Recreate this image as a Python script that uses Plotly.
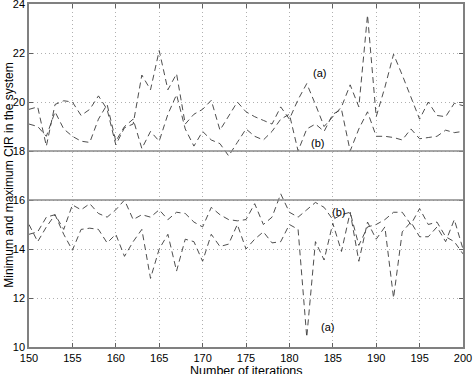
import plotly.graph_objects as go

iterations = list(range(150, 201))

# Maximum CIR, curve (a)
max_a = [19.7, 19.8, 18.2, 19.9, 20.05, 20.0, 19.45, 19.7, 20.25, 19.7,
         18.25, 18.95, 19.1, 21.1, 20.5, 22.1, 20.5, 21.15, 19.1, 19.5,
         19.7, 20.07, 18.85, 19.4, 20.0, 19.6, 19.4, 19.25, 19.1, 19.8,
         19.3, 20.1, 20.75, 19.9, 19.0, 19.4, 19.8, 20.7, 19.8, 23.55,
         19.4, 20.6, 21.95, 21.1, 20.2, 19.3, 20.0, 19.45, 19.4, 19.95, 19.85]
# Maximum CIR, curve (b)
max_b = [19.1, 19.0, 18.6, 19.6, 18.9, 18.6, 18.4, 18.35, 19.3, 19.9,
         18.4, 19.0, 19.3, 18.1, 18.8, 18.4, 19.5, 20.3, 18.9, 18.2,
         18.8, 18.45, 18.3, 17.8, 18.35, 18.9, 18.6, 18.45, 18.8, 19.3,
         19.5, 18.0, 18.9, 19.1, 18.8, 19.5, 19.7, 18.0, 18.9, 19.6,
         18.6, 18.6, 18.55, 18.45, 18.9, 18.5, 18.55, 18.6, 18.85, 18.75, 18.8]
# Minimum CIR, curve (a)
min_a = [15.0, 14.3, 14.9, 15.4, 14.6, 13.95, 14.8, 14.85, 14.8, 14.25,
         14.6, 13.7, 14.3, 14.8, 12.8, 14.0, 14.6, 13.1, 14.4, 14.3,
         13.5, 14.6, 14.1, 14.2, 15.0, 14.0, 14.4, 14.7, 14.25, 14.3,
         15.0, 14.8, 10.4, 14.3, 13.55, 15.05, 13.9, 15.5, 13.5, 15.1,
         14.4, 14.9, 12.0, 14.7, 15.1, 14.5, 14.5, 14.9, 14.3, 15.2, 14.0]
# Minimum CIR, curve (b)
min_b = [14.6, 14.7, 15.3, 15.4, 14.8, 15.8, 15.6, 15.85, 15.45, 15.3,
         15.6, 16.0, 15.2, 15.4, 15.3, 15.6, 15.2, 15.5, 15.45, 15.1,
         14.9, 15.7, 15.4, 15.2, 15.15, 15.2, 15.85, 15.0, 15.3, 16.25,
         15.5, 15.3, 15.6, 15.9, 15.7, 15.2, 15.4, 15.5, 14.15, 14.9,
         15.0, 15.2, 15.5, 15.5, 15.0, 15.65, 15.0, 15.1, 14.5, 14.3, 13.8]

ref_levels = [18, 16]
x_ticks = list(range(150, 201, 5))
y_ticks = list(range(10, 25, 2))

labels = ["(a)", "(b)", "(b)", "(a)"]
label_x = [183.5, 183.2, 185.6, 184.4]
label_y = [21.17, 18.33, 15.52, 10.83]

fig = go.Figure()
line_style = dict(color="#3a3a3a", width=0.9, dash="6px,4px")
for series in (max_a, max_b, min_a, min_b):
    fig.add_trace(go.Scatter(x=iterations, y=series, mode="lines",
                             line=line_style, showlegend=False, hoverinfo="skip"))

for lvl in ref_levels:
    fig.add_hline(y=lvl, line=dict(color="#8a8a8a", width=1.5))

for t, xv, yv in zip(labels, label_x, label_y):
    fig.add_annotation(x=xv, y=yv, text=t, showarrow=False,
                       font=dict(size=11, color="black"))

fig.add_annotation(xref="paper", yref="paper", x=0.5, y=-0.07,
                   text="Number of iterations", showarrow=False,
                   yanchor="middle", font=dict(size=12.5, color="black"))
fig.add_annotation(xref="paper", yref="paper", x=-0.048, y=0.5,
                   text="Minimum and maximum CIR in the system", showarrow=False,
                   textangle=-90, xanchor="center", yanchor="middle",
                   font=dict(size=12, color="black"))

axis_common = dict(showline=True, mirror="ticks", linecolor="#808080", linewidth=1.5,
                   ticks="inside", ticklen=4, tickcolor="#606060", automargin=False,
                   ticklabeloverflow="allow",
                   showgrid=True, gridcolor="#b0b0b0", griddash="1px,3px", gridwidth=1,
                   zeroline=False, tickfont=dict(size=11, color="black",
                                                 family="Liberation Sans, Arial"))

fig.update_xaxes(range=[150, 200], tickvals=x_ticks, **axis_common)
fig.update_yaxes(range=[10, 24], tickvals=y_ticks, **axis_common)

fig.update_layout(width=474, height=374,
                  margin=dict(l=29, r=11, t=4, b=27),
                  plot_bgcolor="white", paper_bgcolor="white",
                  font=dict(family="Liberation Sans, Arial", color="black"))

fig.write_html("out.html", config={"displayModeBar": False},
               post_script="document.body.style.margin='0';document.body.style.overflow='hidden';")
